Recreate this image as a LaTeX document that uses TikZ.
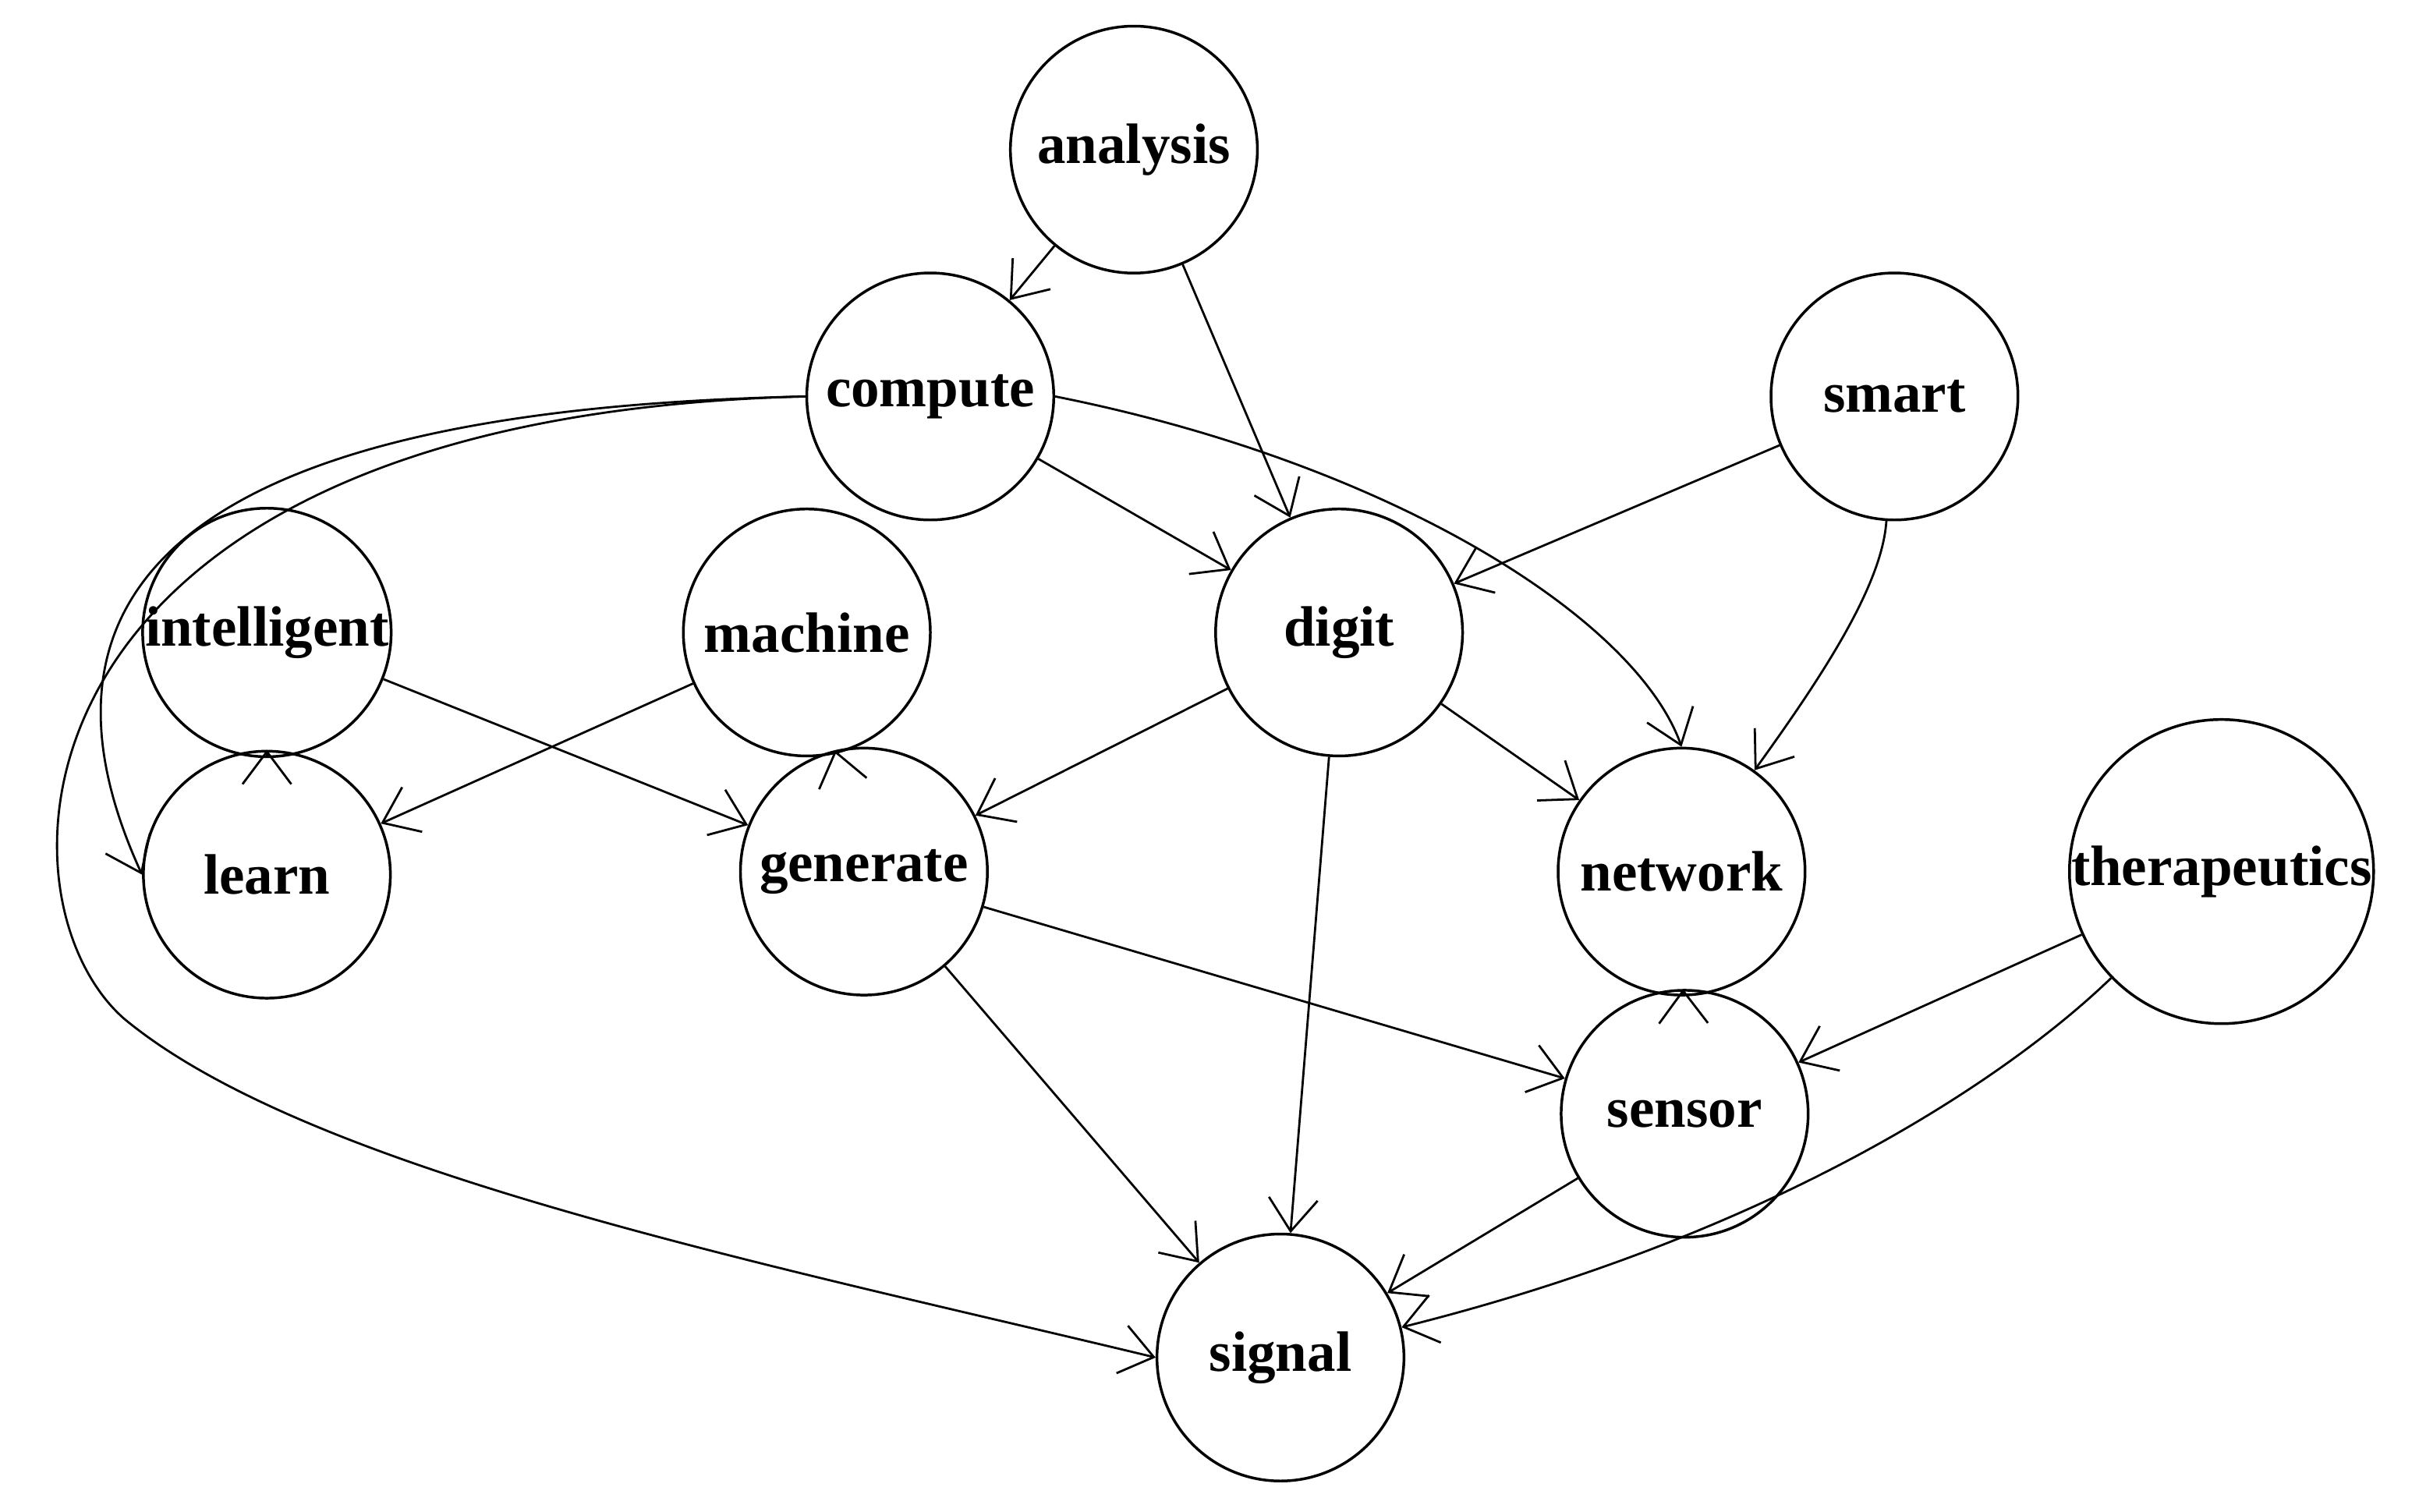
\documentclass[tikz,border=0pt]{standalone}
\usepackage{fontspec}
\setmainfont{Liberation Serif}
\usetikzlibrary{arrows.meta}
\begin{document}
\begin{tikzpicture}[x=0.01cm,y=-0.01cm,
  nd/.style={circle,draw,line width=0.5pt,minimum size=1.6cm,inner sep=0pt,font=\fontsize{10.5}{12}\selectfont\bfseries},
  ar/.style={-{Straight Barb[length=6pt,width=9pt]},line width=0.4pt}]
\useasboundingbox (0,0) rectangle (1568,980);
\node[nd] (analysis) at (735,97) {analysis};
\node[nd] (compute) at (603,257) {compute};
\node[nd] (smart) at (1228,257) {smart};
\node[nd] (intelligent) at (173,410) {intelligent};
\node[nd] (machine) at (523,410) {machine};
\node[nd] (digit) at (868,410) {digit};
\node[nd] (learn) at (173,567) {learn};
\node[nd] (generate) at (560,565) {generate};
\node[nd] (network) at (1090,565) {network};
\node[nd] (therapeutics) at (1440,565) {therapeutics};
\node[nd] (sensor) at (1092,722) {sensor};
\node[nd] (signal) at (830,880) {signal};
\draw[ar] (analysis) -- (compute);
\draw[ar] (analysis) -- (digit);
\draw[ar] (compute) -- (digit);
\draw[ar] (compute.east) .. controls (900,300) and (1060,400) .. (network.north);
\draw[ar] (compute.west) .. controls (300,262) and (-30,300) .. (learn.west);
\draw[ar] (compute.west) .. controls (0,270) and (-10,580) .. (80,660) .. controls (200,760) and (500,820) .. (signal.west);
\draw[ar] (smart) -- (digit);
\draw[ar] (smart) .. controls (1220,380) and (1180,440) .. (network);
\draw[ar] (intelligent) -- (learn);
\draw[ar] (intelligent) -- (generate);
\draw[ar] (machine) -- (learn);
\draw[ar] (machine) -- (generate);
\draw[ar] (digit) -- (generate);
\draw[ar] (digit) -- (network);
\draw[ar] (digit) -- (signal);
\draw[ar] (network) -- (sensor);
\draw[ar] (generate) -- (sensor);
\draw[ar] (generate) -- (signal);
\draw[ar] (therapeutics) -- (sensor);
\draw[ar] (therapeutics) .. controls (1300,700) and (1150,800) .. (signal);
\draw[ar] (sensor) -- (signal);
\end{tikzpicture}
\end{document}
